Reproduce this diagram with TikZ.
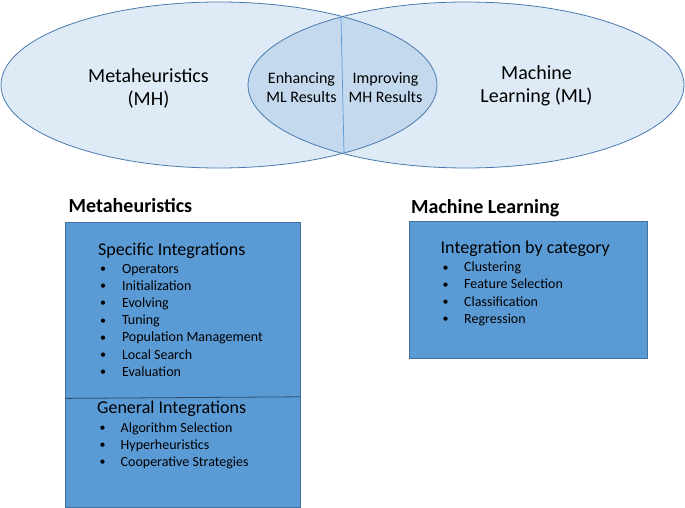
\documentclass[tikz,border=0pt]{standalone}
\usepackage{fontspec}
\setmainfont{Carlito}
\definecolor{ellfill}{HTML}{DEEBF7}
\definecolor{ovfill}{HTML}{C4D9EE}
\definecolor{ellline}{HTML}{4A7AAD}
\definecolor{boxfill}{HTML}{5B9BD5}
\definecolor{boxline}{HTML}{41719C}
\definecolor{divline}{HTML}{2E4D6B}
\tikzset{
  ellborder/.style={draw=ellline, line width=0.8pt},
  bigtxt/.style={font=\fontsize{20}{23}\selectfont, align=center, inner sep=0pt, text=black},
  midtxt/.style={font=\fontsize{16}{19}\selectfont, align=center, inner sep=0pt, text=black},
  titletxt/.style={font=\fontsize{20}{22}\selectfont\bfseries, anchor=base west, inner sep=0pt},
  subtxt/.style={font=\fontsize{18}{21}\selectfont, anchor=base west, inner sep=0pt},
  itemtxt/.style={font=\fontsize{14}{16}\selectfont, anchor=base west, inner sep=0pt},
  bullettxt/.style={font=\fontsize{12}{14}\selectfont, anchor=base west, inner sep=0pt},
  panel/.style={draw=boxline, fill=boxfill, line width=0.8pt, anchor=north west, inner sep=0pt}
}
\begin{document}
\begin{tikzpicture}[x=1pt,y=-1pt]
\useasboundingbox (0,0) rectangle (685,508);
% Venn diagram
\coordinate (L) at (219,85);
\coordinate (R) at (466,85);
\fill[ellfill] (L) ellipse [x radius=218pt, y radius=83pt];
\fill[ellfill] (R) ellipse [x radius=218pt, y radius=83pt];
\begin{scope}
  \clip (L) ellipse [x radius=218pt, y radius=83pt];
  \fill[ovfill] (R) ellipse [x radius=218pt, y radius=83pt];
\end{scope}
\draw[ellborder] (L) ellipse [x radius=218pt, y radius=83pt];
\draw[ellborder] (R) ellipse [x radius=218pt, y radius=83pt];
\coordinate (vtop) at (341,17);
\coordinate (vbot) at (344,153);
\draw[draw=boxfill, line width=0.7pt] (vtop) -- (vbot);

\node[bigtxt] (mh) at (148.5,88) {Metaheuristics\\(MH)};
\node[bigtxt] (ml) at (536.5,86) {Machine\\Learning (ML)};
\node[midtxt] (enh) at (301.5,88) {Enhancing\\ML Results};
\node[midtxt] (imp) at (385.5,88) {Improving\\MH Results};

% Left panel
\node[titletxt] (t1) at (68.5,212) {Metaheuristics};
\node[panel, minimum width=235pt, minimum height=285pt] (box1) at (65,222) {};
\coordinate (d1) at (65,398.4);
\coordinate (d2) at (300,396.8);
\draw[divline, line width=0.8pt] (d1) -- (d2);
\node[subtxt] (s1) at (98,255) {Specific Integrations};
\foreach \name/\txt [count=\i from 0] in {a/Operators,b/Initialization,c/Evolving,d/Tuning,e/Population Management,f/Local Search,g/Evaluation}{
  \node[bullettxt] (b1\name) at (100,272.5+17.2*\i) {•};
  \node[itemtxt] (i1\name) at (121.8,273+17.2*\i) {\txt};
}
\node[subtxt] (s2) at (97,413.6) {General Integrations};
\foreach \name/\txt [count=\i from 0] in {a/Algorithm Selection,b/Hyperheuristics,c/Cooperative Strategies}{
  \node[bullettxt] (b2\name) at (99.5,431.5+17.2*\i) {•};
  \node[itemtxt] (i2\name) at (120.5,432+17.2*\i) {\txt};
}

% Right panel
\node[titletxt] (t2) at (411,213) {Machine Learning};
\node[panel, minimum width=238pt, minimum height=136.6pt] (box2) at (409,221.4) {};
\node[subtxt] (s3) at (440.5,253) {Integration by category};
\foreach \name/\txt [count=\i from 0] in {a/Clustering,b/Feature Selection,c/Classification,d/Regression}{
  \node[bullettxt] (b3\name) at (442.5,271.3+17.1*\i) {•};
  \node[itemtxt] (i3\name) at (464,271.8+17.1*\i) {\txt};
}
\end{tikzpicture}
\end{document}
